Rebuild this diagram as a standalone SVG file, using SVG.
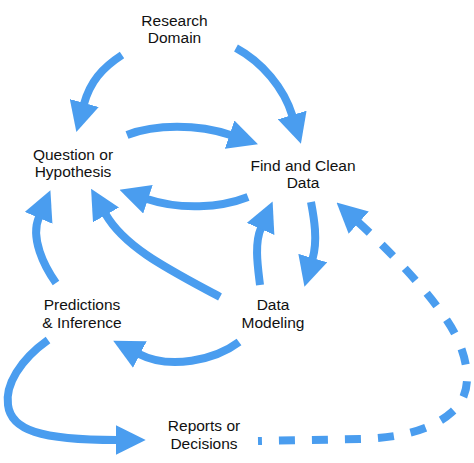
<svg xmlns="http://www.w3.org/2000/svg" width="474" height="463" viewBox="0 0 474 463">
<style>
  .lbl { font-family: "Liberation Sans", Arial, Helvetica, sans-serif; font-size: 15.5px; fill: #111; text-anchor: middle; }
  .conn { fill: none; stroke: #4A9DEF; stroke-width: 8; stroke-linecap: butt; }
  .dash { stroke-dasharray: 16 17; }
</style>
<defs>
  <marker id="head" viewBox="0 0 30 30" refX="1" refY="15" markerWidth="30" markerHeight="30" markerUnits="userSpaceOnUse" orient="auto">
    <path d="M0,0 L30,15 L0,30 z" fill="#4A9DEF"/>
  </marker>
  <marker id="headStart" viewBox="0 0 30 30" refX="1" refY="15" markerWidth="30" markerHeight="30" markerUnits="userSpaceOnUse" orient="auto-start-reverse">
    <path d="M0,0 L30,15 L0,30 z" fill="#4A9DEF"/>
  </marker>
</defs>
<rect width="474" height="463" fill="#ffffff"/>
<g id="connectors">
  <path class="conn" d="M122,55 C102,68 90,82 84,104" marker-end="url(#head)"/>
  <path class="conn" d="M236,48 C262,62 284,88 292.5,116" marker-end="url(#head)"/>
  <path class="conn" d="M127,135 C155,124 198,124 230.5,135" marker-end="url(#head)"/>
  <path class="conn" d="M248,197 C220,208 180,210 147,199" marker-end="url(#head)"/>
  <path class="conn" d="M56,283 C44,266 30,238 39,217" marker-end="url(#head)"/>
  <path class="conn" d="M220,297 C170,270 125,248 105.5,214" marker-end="url(#head)"/>
  <path class="conn" d="M260,285 C258,268 254,244 261,228" marker-end="url(#head)"/>
  <path class="conn" d="M311,202 C314,218 318,240 312.5,259" marker-end="url(#head)"/>
  <path class="conn" d="M239,342 C215,360 170,370 139,354" marker-end="url(#head)"/>
  <path class="conn" d="M48,340 C20,360 5,385 8,405 C11,430 40,440 116.7,440" marker-end="url(#head)"/>
  <path class="conn dash" d="M358,222 C380,242 440,300 458,340 C470,368 472,395 452,412 C432,430 400,438 360,439 L258,441" marker-start="url(#headStart)"/>
</g>
<g id="research-domain">
  <text class="lbl" x="174.5" y="26.3">Research</text>
  <text class="lbl" x="174.5" y="43.3">Domain</text>
</g>
<g id="question-hypothesis">
  <text class="lbl" x="73" y="160">Question or</text>
  <text class="lbl" x="73" y="177">Hypothesis</text>
</g>
<g id="find-clean-data">
  <text class="lbl" x="303" y="170.7">Find and Clean</text>
  <text class="lbl" x="303" y="188">Data</text>
</g>
<g id="predictions-inference">
  <text class="lbl" x="82" y="309.5">Predictions</text>
  <text class="lbl" x="82" y="327.5">&amp; Inference</text>
</g>
<g id="data-modeling">
  <text class="lbl" x="273" y="310">Data</text>
  <text class="lbl" x="273" y="327.5">Modeling</text>
</g>
<g id="reports-decisions">
  <text class="lbl" x="204" y="431">Reports or</text>
  <text class="lbl" x="204" y="449">Decisions</text>
</g>
</svg>
